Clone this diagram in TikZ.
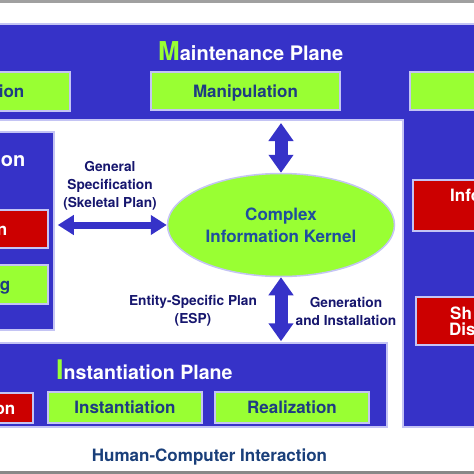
\documentclass[tikz,border=0pt]{standalone}
\usepackage{fontspec}
\setmainfont{TeX Gyre Heros}
\usetikzlibrary{arrows.meta,shapes.geometric}
\definecolor{planeblue}{HTML}{3632C8}
\definecolor{lav}{HTML}{C4C4F4}
\definecolor{kgreen}{HTML}{99FF33}
\definecolor{kred}{HTML}{CC0000}
\definecolor{boxnavy}{HTML}{1E3C82}
\definecolor{lblnavy}{HTML}{16166E}
\definecolor{hcinavy}{HTML}{1A3F7A}
\definecolor{kerneltext}{HTML}{1F4E9E}
\definecolor{edgegray}{HTML}{A0A0A0}
\newcommand\fsz[2]{\fontsize{#1}{#2}\selectfont\bfseries}
\begin{document}
\begin{tikzpicture}[x=1pt,y=-1pt,
  plane/.style={fill=planeblue,draw=lav,line width=1.5pt},
  planebox/.style={plane,inner sep=0pt},
  gbox/.style={fill=kgreen,draw=lav,line width=1.5pt,inner sep=0pt},
  rbox/.style={fill=kred,draw=lav,line width=1.5pt,inner sep=0pt},
  btext/.style={inner sep=0pt,font=\fsz{17}{20},text=boxnavy,text height=12.2pt,text depth=0pt},
  wtext/.style={btext,text=white},
  lbl/.style={inner sep=0pt,align=center,text=lblnavy,font=\fsz{13.7}{18}},
  varrow/.style={draw=planeblue,line width=13pt,{Triangle[length=18pt,width=24pt]}-{Triangle[length=18pt,width=24pt]}},
  harrow/.style={draw=planeblue,line width=7pt,{Triangle[length=16pt,width=19pt]}-{Triangle[length=16pt,width=19pt]}}
]
\useasboundingbox (0,0) rectangle (474,474);
\clip (0,0) rectangle (474,474);
\fill[white] (0,0) rectangle (474,474);
% gray edges
\fill[edgegray] (0,0) rectangle (474,2.5);
\fill[edgegray!85!black] (0,471) rectangle (474,474);

% maintenance plane (top bar and right column)
\path[plane] (-5,24) -- (480,24) -- (480,427) -- (403,427) -- (403,120) -- (-5,120) -- cycle;
\coordinate (mbot) at (281,120);

\node[anchor=base west,inner sep=0pt] (mtitle) at (158,60.5)
  {\fsz{26}{30}\textcolor{kgreen}{M}\fsz{20}{24}\textcolor{white}{aintenance Plane}};

\node[gbox,minimum width=75pt,minimum height=39pt] (mleft) at (32.5,91.5) {};
\node[btext,anchor=east] (mlefttxt) at (24.5,91.5) {ion};
\node[gbox,minimum width=189pt,minimum height=38pt] (manip) at (245.5,91) {};
\node[btext] (maniptxt) at (245.5,91) {Manipulation};
\node[gbox,minimum width=70pt,minimum height=38pt] (mright) at (445,91) {};

% right column boxes
\node[rbox,minimum width=67pt,minimum height=51pt] (rinfo) at (446.5,205.5) {};
\node[wtext,anchor=west] (rinfotxt) at (450,195) {Info};
\node[rbox,minimum width=64pt,minimum height=48pt] (rshdis) at (448,321) {};
\node[wtext,anchor=west] (rshtxt) at (450,313) {Sh};
\node[wtext,anchor=west] (rdistxt) at (449,329.5) {Dis};

% left plane
\node[planebox,minimum width=59pt,minimum height=198pt] (lplane) at (24.5,231) {};
\node[inner sep=0pt,anchor=east,font=\fsz{20}{24},text=white,text height=14.4pt,text depth=0pt] (lplanetxt) at (25.5,159.5) {on};
\node[rbox,minimum width=53pt,minimum height=38pt] (lred) at (21.5,229) {};
\node[wtext,anchor=east] (lredtxt) at (7.5,229) {n};
\node[gbox,minimum width=53pt,minimum height=39pt] (lgreen) at (21.5,284.5) {};
\node[btext,anchor=east] (lgreentxt) at (10.5,284.5) {g};

% instantiation plane
\node[planebox,minimum width=392pt,minimum height=84pt] (inst) at (191,385) {};
\node[anchor=base west,inner sep=0pt] (ititle) at (56,379)
  {\fsz{27}{30}\textcolor{kgreen}{I}\fsz{19.6}{24}\textcolor{white}{nstantiation Plane}};
\node[rbox,minimum width=38pt,minimum height=30pt] (ired) at (14,408) {};
\node[wtext,anchor=east] (iredtxt) at (15.5,408) {on};
\node[gbox,minimum width=154pt,minimum height=31pt] (iinst) at (125,407.5) {};
\node[btext] (iinsttxt) at (125,407.5) {Instantiation};
\node[gbox,minimum width=154pt,minimum height=31pt] (ireal) at (292,407.5) {};
\node[btext] (irealtxt) at (292,407.5) {Realization};

% kernel
\node[ellipse,fill=kgreen,draw=lav,line width=1.5pt,minimum width=227pt,minimum height=103pt,
  inner sep=0pt,align=center,text=kerneltext,font=\fsz{17}{22}] (kernel) at (281,225)
  {Complex\\Information Kernel};

% arrows
\draw[varrow,shorten >=3pt] (kernel.north) -- (kernel.north |- mbot);
\draw[varrow,shorten >=1pt] (kernel.south) -- (kernel.south |- inst.north);
\draw[harrow,shorten <=3pt] (lplane.east |- kernel.west) -- (kernel.west);

% labels
\node[lbl] (genspec) at (110,186) {General\\Specification\\(Skeletal Plan)};
\node[lbl] (esp) at (193,310.5) {Entity-Specific Plan\\(ESP)};
\node[lbl] (geninst) at (346,311.5) {Generation\\and Installation};
\node[inner sep=0pt,text=hcinavy,font=\fsz{17}{20}] (hci) at (209.5,457) {Human-Computer Interaction};
\end{tikzpicture}
\end{document}
